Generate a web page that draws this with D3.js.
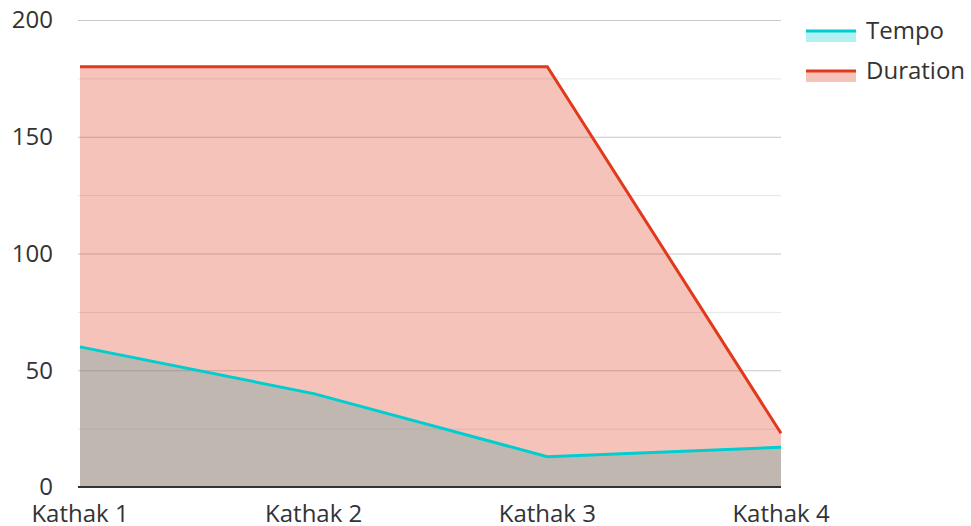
<!DOCTYPE html>
<html>
<head>
<meta charset="utf-8">
<script src="https://cdn.jsdelivr.net/npm/d3@7"></script>
<style>
  body { margin: 0; background: #fff; }
  text { font-family: "Open Sans", "Noto Sans", sans-serif; fill: #333; }
</style>
</head>
<body>
<script>
var categories = ["Kathak 1", "Kathak 2", "Kathak 3", "Kathak 4"];
var tempo = [60, 40, 13, 17];
var duration = [180, 180, 180, 23];
var yTicks = [0, 50, 100, 150, 200];
var seriesNames = ["Tempo", "Duration"];

var width = 971, height = 526;
var margin = {top: 20, right: 190, bottom: 39, left: 80};

var svg = d3.select("body").append("svg")
    .attr("width", width)
    .attr("height", height);

var x = d3.scalePoint()
    .domain(categories)
    .range([margin.left, width - margin.right]);

var y = d3.scaleLinear()
    .domain([0, 200])
    .range([height - margin.bottom, margin.top]);

// grid lines (minor + major)
svg.append("g")
   .selectAll("line")
   .data(d3.range(0, 201, 25).filter(function(d) { return d > 0; }))
   .join("line")
   .attr("x1", margin.left - 2)
   .attr("x2", width - margin.right)
   .attr("y1", function(d) { return y(d) + 0.5; })
   .attr("y2", function(d) { return y(d) + 0.5; })
   .attr("stroke", function(d) { return d % 50 === 0 ? "#c8c8c8" : "#e6e6e6"; })
   .attr("stroke-width", 1);

// y labels
svg.append("g")
   .selectAll("text")
   .data(yTicks)
   .join("text")
   .attr("x", 53)
   .attr("y", function(d) { return y(d); })
   .attr("dy", "0.35em")
   .attr("text-anchor", "end")
   .style("font-size", "24px")
   .text(function(d) { return d; });

var colors = {Tempo: "#00cdd0", Duration: "#e0391b"};

var area = d3.area()
    .x(function(d, i) { return x(categories[i]); })
    .y0(y(0))
    .y1(function(d) { return y(d); });

var line = d3.line()
    .x(function(d, i) { return x(categories[i]); })
    .y(function(d) { return y(d); });

// areas: tempo below, duration above
[["Tempo", tempo], ["Duration", duration]].forEach(function(s) {
  svg.append("path")
     .attr("d", area(s[1]))
     .attr("fill", colors[s[0]])
     .attr("fill-opacity", 0.3);
});

[["Tempo", tempo], ["Duration", duration]].forEach(function(s) {
  svg.append("path")
     .attr("d", line(s[1]))
     .attr("fill", "none")
     .attr("stroke", colors[s[0]])
     .attr("stroke-width", 3);
});

// x axis line
svg.append("line")
   .attr("x1", margin.left - 2)
   .attr("x2", width - margin.right)
   .attr("y1", y(0))
   .attr("y2", y(0))
   .attr("stroke", "#333")
   .attr("stroke-width", 2);

// x labels
svg.append("g")
   .selectAll("text")
   .data(categories)
   .join("text")
   .attr("x", function(d) { return x(d); })
   .attr("y", 522)
   .attr("text-anchor", "middle")
   .style("font-size", "24px")
   .text(function(d) { return d; });

// legend
var legend = svg.append("g")
    .selectAll("g")
    .data(seriesNames)
    .join("g")
    .attr("transform", function(d, i) { return "translate(806," + (31 + i * 40) + ")"; });

legend.append("rect")
   .attr("x", 0).attr("y", 0)
   .attr("width", 50).attr("height", 11)
   .attr("fill", function(d) { return colors[d]; })
   .attr("fill-opacity", 0.3);

legend.append("rect")
   .attr("x", 0).attr("y", -1.5)
   .attr("width", 50).attr("height", 3)
   .attr("fill", function(d) { return colors[d]; });

legend.append("text")
   .attr("x", 60)
   .attr("y", 0)
   .attr("dy", "0.35em")
   .style("font-size", "24px")
   .text(function(d) { return d; });
</script>
</body>
</html>
